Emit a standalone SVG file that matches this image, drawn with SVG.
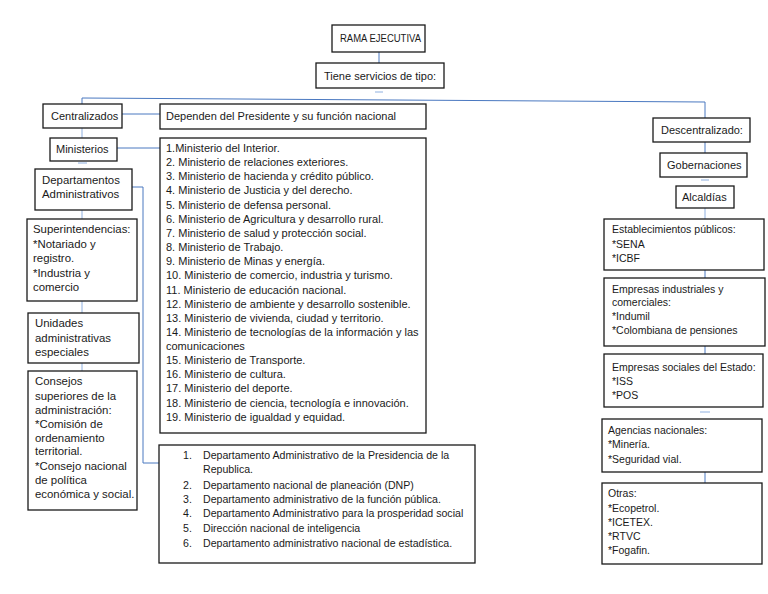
<svg xmlns="http://www.w3.org/2000/svg" width="768" height="594" viewBox="0 0 768 594">
<style>
.b{fill:#fff;stroke:#1a1a1a;stroke-width:1.3}
.t{font-family:"Liberation Sans",Arial,sans-serif;font-size:11px;fill:#1a1a1a}
.l{font-size:11.4px}
.r{font-size:10.5px}
.d{font-size:10.6px}
.c{fill:none;stroke:#4a78c0;stroke-width:1}
.s{fill:none;stroke:#8fb0e0;stroke-width:1}
</style>
<rect width="768" height="594" fill="#fff"/>
<g id="connectors">
<path class="c" d="M379,52V63"/>
<path class="s" d="M375,92H383"/>
<path class="c" d="M82,104V98L705,102V118"/>
<path class="c" d="M122,114H160"/>
<path class="s" d="M82,128V138"/>
<path class="c" d="M117,148H160"/>
<path class="s" d="M78,163H87"/>
<path class="c" d="M132,187H143V463H159"/>
<path class="s" d="M82,210V219"/>
<path class="s" d="M82,301V313"/>
<path class="s" d="M82,363V371"/>
<path class="c" d="M705,142V153"/>
<path class="s" d="M701,180H709"/>
<path class="s" d="M705,208V219"/>
<path class="c" d="M705,270V278"/>
<path class="c" d="M705,346V354"/>
<path class="s" d="M700,412H710"/>
<path class="c" d="M705,472V483"/>
</g>
<g id="rama"><rect class="b" x="332" y="25" width="93" height="27"/><text class="t" x="340" y="42" textLength="81" lengthAdjust="spacingAndGlyphs">RAMA EJECUTIVA</text></g>
<g id="tiene"><rect class="b" x="316" y="63" width="128" height="25"/><text class="t" x="324" y="80">Tiene servicios de tipo:</text></g>
<g id="centralizados"><rect class="b" x="43" y="104" width="79" height="24"/><text class="t" x="51" y="120">Centralizados</text></g>
<g id="dependen"><rect class="b" x="160" y="104" width="266" height="25"/><text class="t" x="166" y="120">Dependen del Presidente y su función nacional</text></g>
<g id="ministerios"><rect class="b" x="50" y="138" width="67" height="23"/><text class="t" x="56" y="153">Ministerios</text></g>
<g id="lista-ministerios"><rect class="b" x="160" y="138" width="266" height="295"/>
<text class="t" x="166" y="152">1.Ministerio del Interior.</text>
<text class="t" x="166" y="166">2. Ministerio de relaciones exteriores.</text>
<text class="t" x="166" y="180">3. Ministerio de hacienda y crédito público.</text>
<text class="t" x="166" y="194">4. Ministerio de Justicia y del derecho.</text>
<text class="t" x="166" y="209">5. Ministerio de defensa personal.</text>
<text class="t" x="166" y="223">6. Ministerio de Agricultura y desarrollo rural.</text>
<text class="t" x="166" y="237">7. Ministerio de salud y protección social.</text>
<text class="t" x="166" y="251">8. Ministerio de Trabajo.</text>
<text class="t" x="166" y="265">9. Ministerio de Minas y energía.</text>
<text class="t" x="166" y="279">10. Ministerio de comercio, industria y turismo.</text>
<text class="t" x="166" y="294">11. Ministerio de educación nacional.</text>
<text class="t" x="166" y="308">12. Ministerio de ambiente y desarrollo sostenible.</text>
<text class="t" x="166" y="322">13. Ministerio de vivienda, ciudad y territorio.</text>
<text class="t" x="166" y="336">14. Ministerio de tecnologías de la información y las</text>
<text class="t" x="166" y="350">comunicaciones</text>
<text class="t" x="166" y="364">15. Ministerio de Transporte.</text>
<text class="t" x="166" y="378">16. Ministerio de cultura.</text>
<text class="t" x="166" y="392">17. Ministerio del deporte.</text>
<text class="t" x="166" y="407">18. Ministerio de ciencia, tecnología e innovación.</text>
<text class="t" x="166" y="421">19. Ministerio de igualdad y equidad.</text>
</g>
<g id="departamentos"><rect class="b" x="35" y="169" width="97" height="41"/><text class="t l" x="42" y="184">Departamentos</text><text class="t l" x="42" y="198">Administrativos</text></g>
<g id="superintendencias"><rect class="b" x="27" y="219" width="110" height="82"/>
<text class="t l" x="33" y="233">Superintendencias:</text>
<text class="t l" x="33" y="248">*Notariado y</text>
<text class="t l" x="33" y="262">registro.</text>
<text class="t l" x="33" y="277">*Industria y</text>
<text class="t l" x="33" y="291">comercio</text>
</g>
<g id="unidades"><rect class="b" x="28" y="313" width="111" height="50"/>
<text class="t l" x="35" y="327">Unidades</text>
<text class="t l" x="35" y="342">administrativas</text>
<text class="t l" x="35" y="356">especiales</text>
</g>
<g id="consejos"><rect class="b" x="28" y="371" width="109" height="139"/>
<text class="t l" x="35" y="385">Consejos</text>
<text class="t l" x="35" y="400">superiores de la</text>
<text class="t l" x="35" y="414">administración:</text>
<text class="t l" x="35" y="428">*Comisión de</text>
<text class="t l" x="35" y="442">ordenamiento</text>
<text class="t l" x="35" y="455">territorial.</text>
<text class="t l" x="35" y="470">*Consejo nacional</text>
<text class="t l" x="35" y="484">de política</text>
<text class="t l" x="35" y="498">económica y social.</text>
</g>
<g id="lista-departamentos"><rect class="b" x="159" y="445" width="316" height="118"/>
<text class="t d" x="183" y="459">1.</text><text class="t d" x="203" y="459">Departamento Administrativo de la Presidencia de la</text>
<text class="t d" x="203" y="473">Republica.</text>
<text class="t d" x="183" y="489">2.</text><text class="t d" x="203" y="489">Departamento nacional de planeación (DNP)</text>
<text class="t d" x="183" y="503">3.</text><text class="t d" x="203" y="503">Departamento administrativo de la función pública.</text>
<text class="t d" x="183" y="517">4.</text><text class="t d" x="203" y="517">Departamento Administrativo para la prosperidad social</text>
<text class="t d" x="183" y="532">5.</text><text class="t d" x="203" y="532">Dirección nacional de inteligencia</text>
<text class="t d" x="183" y="547">6.</text><text class="t d" x="203" y="547">Departamento administrativo nacional de estadística.</text>
</g>
<g id="descentralizado"><rect class="b" x="653" y="118" width="97" height="24"/><text class="t" x="661" y="134">Descentralizado:</text></g>
<g id="gobernaciones"><rect class="b" x="660" y="153" width="87" height="24"/><text class="t" x="667" y="169">Gobernaciones</text></g>
<g id="alcaldias"><rect class="b" x="676" y="186" width="58" height="22"/><text class="t" x="682" y="201">Alcaldías</text></g>
<g id="establecimientos"><rect class="b" x="604" y="219" width="160" height="51"/>
<text class="t r" x="612" y="233">Establecimientos públicos:</text>
<text class="t r" x="612" y="248">*SENA</text>
<text class="t r" x="612" y="262">*ICBF</text>
</g>
<g id="empresas-industriales"><rect class="b" x="604" y="278" width="161" height="68"/>
<text class="t r" x="612" y="293">Empresas industriales y</text>
<text class="t r" x="612" y="306">comerciales:</text>
<text class="t r" x="612" y="320">*Indumil</text>
<text class="t r" x="612" y="334">*Colombiana de pensiones</text>
</g>
<g id="empresas-sociales"><rect class="b" x="604" y="354" width="159" height="53"/>
<text class="t r" x="612" y="371">Empresas sociales del Estado:</text>
<text class="t r" x="612" y="385">*ISS</text>
<text class="t r" x="612" y="399">*POS</text>
</g>
<g id="agencias"><rect class="b" x="602" y="419" width="160" height="53"/>
<text class="t r" x="608" y="434">Agencias nacionales:</text>
<text class="t r" x="608" y="448">*Minería.</text>
<text class="t r" x="608" y="463">*Seguridad vial.</text>
</g>
<g id="otras"><rect class="b" x="602" y="483" width="160" height="81"/>
<text class="t r" x="608" y="497">Otras:</text>
<text class="t r" x="608" y="512">*Ecopetrol.</text>
<text class="t r" x="608" y="526">*ICETEX.</text>
<text class="t r" x="608" y="540">*RTVC</text>
<text class="t r" x="608" y="554">*Fogafin.</text>
</g>
</svg>
